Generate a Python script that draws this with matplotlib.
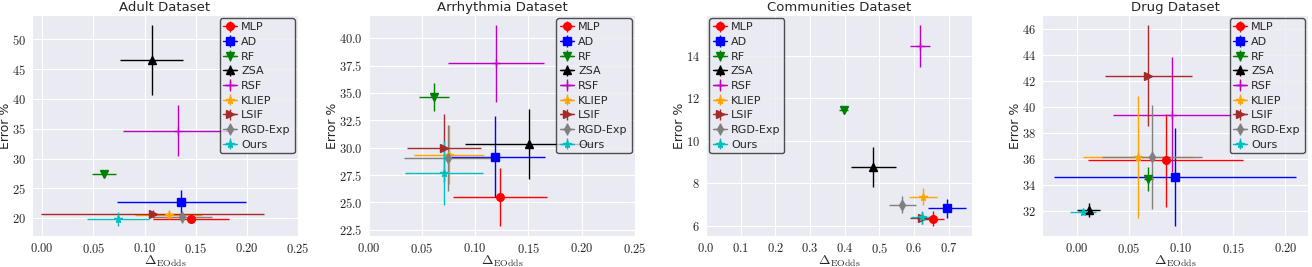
import matplotlib
matplotlib.use('Agg')
import matplotlib.pyplot as plt
import seaborn as sns
from matplotlib.ticker import FuncFormatter, MultipleLocator

sns.set_style('darkgrid')
plt.rcParams['font.family'] = ['DejaVu Sans']
plt.rcParams['mathtext.fontset'] = 'cm'

methods = ['MLP', 'AD', 'RF', 'ZSA', 'RSF', 'KLIEP', 'LSIF', 'RGD-Exp', 'Ours']
colors = ['red', 'blue', 'green', 'black', 'm', 'orange', 'brown', 'gray', 'c']
markers = ['o', 's', 'v', '^', '+', '*', '>', 'd', '*']

datasets = ['Adult Dataset', 'Arrhythmia Dataset', 'Communities Dataset', 'Drug Dataset']

# (x = Delta EOdds, x err, y = error %, y err), one list per dataset
adult_x = [0.1457, 0.136, 0.0603, 0.107, 0.1327, 0.1235, 0.108, 0.137, 0.074]
adult_xerr = [0.037, 0.063, 0.012, 0.031, 0.054, 0.033, 0.109, 0.029, 0.030]
adult_y = [19.83, 22.68, 27.47, 46.5, 34.67, 20.6, 20.7, 20.2, 19.9]
adult_yerr = [0.7, 2.1, 0.6, 5.9, 4.3, 0.8, 0.7, 1.0, 1.2]

arr_x = [0.1233, 0.1189, 0.0612, 0.1503, 0.1192, 0.0753, 0.0706, 0.0747, 0.0706]
arr_xerr = [0.044, 0.047, 0.014, 0.060, 0.045, 0.033, 0.035, 0.042, 0.037]
arr_y = [25.5, 29.19, 34.64, 30.34, 37.7, 29.34, 29.95, 29.04, 27.68]
arr_yerr = [2.65, 3.7, 1.3, 3.2, 3.5, 2.7, 3.1, 3.0, 2.95]

com_x = [0.654, 0.695, 0.397, 0.482, 0.617, 0.626, 0.623, 0.566, 0.622]
com_xerr = [0.033, 0.054, 0.012, 0.065, 0.028, 0.041, 0.035, 0.039, 0.030]
com_y = [6.33, 6.81, 11.44, 8.75, 14.44, 7.36, 6.36, 6.98, 6.38]
com_yerr = [0.35, 0.45, 0.2, 0.93, 1.0, 0.4, 0.3, 0.4, 0.3]

drug_x = [0.085, 0.094, 0.0685, 0.0111, 0.0914, 0.0589, 0.0685, 0.0717, 0.0057]
drug_xerr = [0.074, 0.116, 0.004, 0.011, 0.057, 0.053, 0.042, 0.048, 0.0128]
drug_y = [35.9, 34.62, 34.44, 32.05, 39.4, 36.15, 42.44, 36.15, 31.9]
drug_yerr = [3.6, 3.8, 0.9, 0.55, 4.45, 4.7, 3.9, 4.0, 0.25]

all_data = [(adult_x, adult_xerr, adult_y, adult_yerr),
            (arr_x, arr_xerr, arr_y, arr_yerr),
            (com_x, com_xerr, com_y, com_yerr),
            (drug_x, drug_xerr, drug_y, drug_yerr)]
xlims = [(-0.0101, 0.25), (0.0, 0.25), (0.0, 0.767), (None, None)]
xsteps = [0.05, 0.05, 0.1, 0.05]
ysteps = [5, 2.5, 2, 2]
legend_loc = ['upper right', 'upper right', 'upper left', 'upper right']
xfmt = ['{:.2f}', '{:.2f}', '{:.1f}', '{:.2f}']
yfmt = ['{:.0f}', '{:.1f}', '{:.0f}', '{:.0f}']

fig = plt.figure(figsize=(13.12, 2.67), dpi=100)
lefts = [0.0244, 0.2812, 0.5381, 0.7942]

for k in range(4):
    ax = fig.add_axes([lefts[k], 0.116, 0.2027, 0.828])
    xs, xe, ys, ye = all_data[k]
    for i in range(len(methods)):
        ax.errorbar(xs[i], ys[i], xerr=xe[i], yerr=ye[i], color=colors[i],
                    marker=markers[i], markersize=5.5, elinewidth=1, linewidth=1,
                    label=methods[i])
    if xlims[k][0] is not None:
        ax.set_xlim(xlims[k])
    ax.xaxis.set_major_locator(MultipleLocator(xsteps[k]))
    ax.yaxis.set_major_locator(MultipleLocator(ysteps[k]))
    f1 = xfmt[k]
    f2 = yfmt[k]
    ax.xaxis.set_major_formatter(FuncFormatter(lambda v, p, f=f1: '$' + f.format(v) + '$'))
    ax.yaxis.set_major_formatter(FuncFormatter(lambda v, p, f=f2: '$' + f.format(v) + '$'))
    ax.tick_params(labelsize=9, pad=1)
    ax.set_title(datasets[k], fontsize=9.5, pad=3)
    ax.set_xlabel(r'$\Delta_{\rm EOdds}$', fontsize=10, labelpad=-2)
    ax.set_ylabel('Error %', fontsize=9, labelpad=0)
    leg = ax.legend(loc=legend_loc[k], fontsize=8, frameon=True, handlelength=1.2,
                    handletextpad=0.4, borderpad=0.35, labelspacing=0.42, borderaxespad=0.3)
    leg.get_frame().set_edgecolor('0.15')
    leg.get_frame().set_facecolor('#EAEAF2')

fig.savefig('out.png', dpi=100)
